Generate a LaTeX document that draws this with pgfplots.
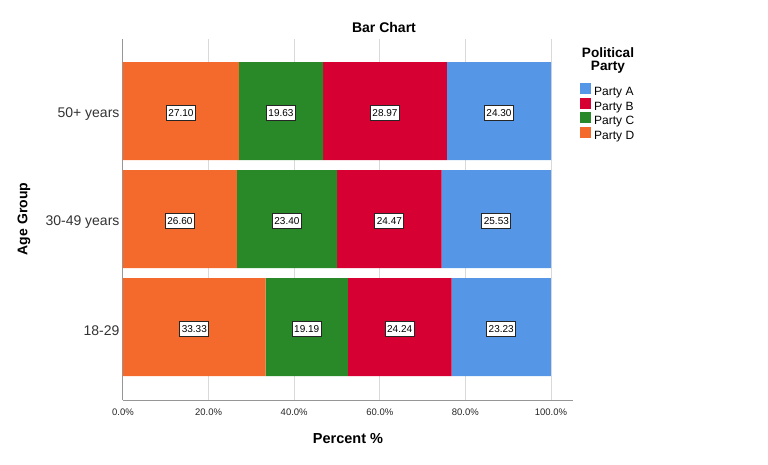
\documentclass[border=0pt]{standalone}
\usepackage{fontspec}
\setmainfont{Liberation Sans}
\usepackage{pgfplots}
\usepackage{pgfplotstable}
\pgfplotsset{compat=1.18}

\definecolor{partyA}{RGB}{85,150,230}
\definecolor{partyB}{RGB}{215,0,50}
\definecolor{partyC}{RGB}{41,137,41}
\definecolor{partyD}{RGB}{244,106,44}
\definecolor{gridgray}{RGB}{217,217,217}
\definecolor{axisgray}{RGB}{150,150,150}

% percent per age group (0 = 18-29, 1 = 30-49 years, 2 = 50+ years)
\pgfplotstableread{
y v
0 33.33
1 26.60
2 27.10
}\partyD
\pgfplotstableread{
y v
0 19.19
1 23.40
2 19.63
}\partyC
\pgfplotstableread{
y v
0 24.24
1 24.47
2 28.97
}\partyB
\pgfplotstableread{
y v
0 23.23
1 25.53
2 24.30
}\partyA

\begin{document}
\begin{tikzpicture}
\path[use as bounding box] (-123pt,-64pt) rectangle (645pt,400pt);
\begin{axis}[
  at={(0pt,0pt)}, anchor=south west,
  scale only axis, width=450pt, height=361pt,
  xbar stacked, bar width=98pt,
  xmin=0, xmax=105.14,
  ymin=-0.676, ymax=2.667,
  xtick={0,20,40,60,80,100},
  ytick={0,1,2},
  yticklabels={18-29,30-49 years,50+ years},
  xticklabel={\pgfmathprintnumber[fixed,fixed zerofill,precision=1]{\tick}\%},
  /pgf/number format/assume math mode=true,
  axis x line*=bottom, axis y line*=left,
  axis line style={axisgray, line width=1pt},
  major tick length=0pt,
  xmajorgrids, grid style={gridgray, line width=1pt},
  xticklabel style={font=\fontsize{9.5}{11}\selectfont, text=black!85, yshift=-5.5pt},
  yticklabel style={font=\fontsize{14}{16}\selectfont, text=black!80, yshift=-3.5pt},
  nodes near coords, point meta=explicit symbolic,
  every node near coord/.append style={anchor=center, yshift=-2pt, draw=black!85,
    line width=0.8pt, fill=white, text=black,
    font=\fontsize{10}{12}\selectfont,
    inner xsep=2pt, inner ysep=0pt, minimum height=15pt,
    text height=7.2pt, text depth=0pt},
  legend style={at={(1.0156,0.878)}, anchor=north west, draw=none, fill=none,
    inner sep=0pt, row sep=-1.8pt,
    font=\fontsize{12}{14}\selectfont,
    nodes={inner sep=1pt, text height=9pt, text depth=2.5pt},
    /tikz/every odd column/.append style={column sep=2pt}},
  legend cell align=left,
  legend image code/.code={\fill[#1] (0pt,-1.5pt) rectangle (11pt,9.5pt);},
  reverse legend,
]
\addplot[fill=partyD, draw=none] table[x=v, y=y, meta=v] {\partyD};
\addlegendentry{Party D}
\addplot[fill=partyC, draw=none] table[x=v, y=y, meta=v] {\partyC};
\addlegendentry{Party C}
\addplot[fill=partyB, draw=none] table[x=v, y=y, meta=v] {\partyB};
\addlegendentry{Party B}
\addplot[fill=partyA, draw=none] table[x=v, y=y, meta=v] {\partyA};
\addlegendentry{Party A}
\end{axis}

\node[font=\fontsize{14}{16}\selectfont\bfseries, anchor=base] at (261pt,367pt) {Bar Chart};
\node[font=\fontsize{14.5}{16}\selectfont\bfseries, anchor=base] at (225pt,-43pt) {Percent \%};
\node[font=\fontsize{14}{16}\selectfont\bfseries, rotate=90, inner sep=0pt] at (-99pt,181pt) {Age Group};
\node[font=\fontsize{13.6}{15}\selectfont\bfseries, anchor=base] at (485pt,342.5pt) {Political};
\node[font=\fontsize{13.6}{15}\selectfont\bfseries, anchor=base] at (485pt,329.5pt) {Party};
\end{tikzpicture}
\end{document}
